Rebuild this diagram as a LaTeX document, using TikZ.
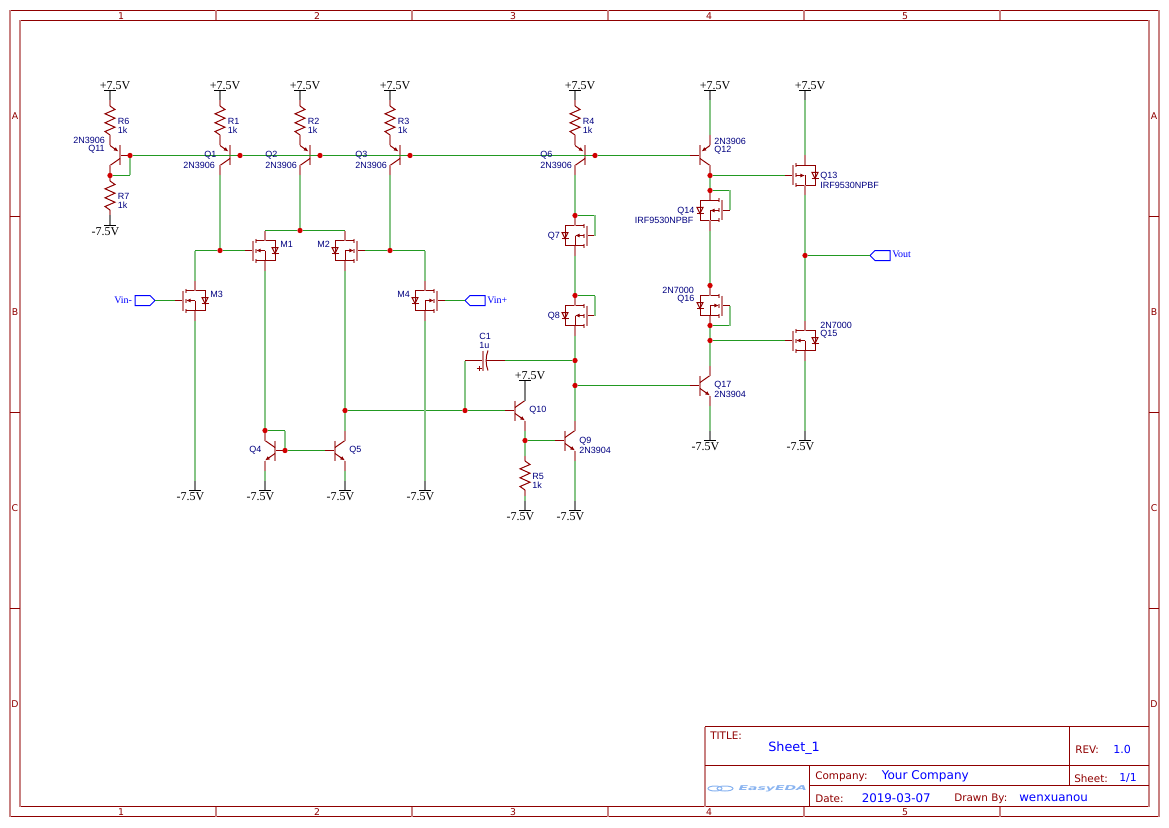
\documentclass[tikz,border=0pt]{standalone}
\usepackage{fontspec}
\setmainfont{Liberation Serif}
\setsansfont{Liberation Sans}
\newfontfamily\sheetfont{DejaVu Sans}
\usetikzlibrary{arrows.meta, positioning}

\definecolor{part_red}{HTML}{8F0000}
\definecolor{pin_rose}{HTML}{C88080}
\definecolor{wire_green}{HTML}{229922}
\definecolor{wire_pale}{HTML}{85C485}
\definecolor{dot_red}{HTML}{D00000}
\definecolor{label_navy}{HTML}{000080}
\definecolor{value_blue}{HTML}{0000FF}
\definecolor{logo_blue}{HTML}{8AB4F0}

\newcommand{\mosfetbody}{
    \draw[part_style] (-20,0) -- (-12,0);
    \draw[bar_style] (-12,-10) -- (-12,10);
    \draw[bar_style] (-9,-12) -- (-9,-8);
    \draw[bar_style] (-9,-2) -- (-9,2);
    \draw[bar_style] (-9,8) -- (-9,12);
    \draw[part_style] (-9,-10) -- (10,-10) -- (10,10) -- (-9,10);
    \draw[part_style] (0,0) -- (0,10);
    \draw[pin_style] (0,-20) -- (0,-10);
    \draw[pin_style] (0,10) -- (0,20);
    \draw[part_style] (7,-3) -- (13,-3) -- (10,3) -- cycle;
    \draw[part_style] (6.5,3) -- (13.5,3);
    \coordinate (-g) at (-20,0);
    \coordinate (-d) at (0,-20);
    \coordinate (-s) at (0,20);
}

\begin{document}
\begin{tikzpicture}[
    x=0.75pt, y=-0.75pt, shift={(0,0.5)},
    part_style/.style={line width=0.75pt, part_red},
    pin_style/.style={line width=1.5pt, pin_rose},
    bar_style/.style={line width=1.5pt, pin_rose},
    wire_style/.style={line width=0.75pt, wire_green},
    wire_v_style/.style={line width=1.5pt, wire_pale},
    frame_style/.style={line width=0.75pt, part_red},
    frame_v_style/.style={line width=1.5pt, pin_rose},
    stem_style/.style={line width=1.5pt, black!50},
    dot_style/.style={circle, fill=dot_red, inner sep=0pt, minimum size=4pt},
    label_style/.style={anchor=west, inner sep=0pt, text=label_navy, font=\sffamily\fontsize{6.75}{8}\selectfont},
    rail_style/.style={inner sep=0pt, font=\rmfamily\fontsize{9}{10}\selectfont},
    net_style/.style={anchor=west, inner sep=0pt, text=value_blue, font=\rmfamily\fontsize{7.5}{9}\selectfont},
    edge_style/.style={inner sep=0pt, text=part_red, font=\sheetfont\fontsize{7}{8}\selectfont},
    head_style/.style={anchor=west, inner sep=0pt, text=part_red, font=\sheetfont\fontsize{7.8}{9}\selectfont},
    bjt_pnp/.pic={
        \draw[part_style] (-10,0) -- (0,0);
        \draw[bar_style] (0,-10) -- (0,10);
        \draw[part_style, -{Latex[length=3.5pt, width=3pt]}] (10,-10) -- (1.5,-4);
        \draw[part_style] (0,3) -- (10,10);
        \draw[pin_style] (10,-10) -- (10,-20);
        \draw[pin_style] (10,10) -- (10,20);
        \coordinate (-b) at (-10,0);
        \coordinate (-e) at (10,-20);
        \coordinate (-c) at (10,20);
    },
    bjt_npn/.pic={
        \draw[part_style] (-10,0) -- (0,0);
        \draw[bar_style] (0,-10) -- (0,10);
        \draw[part_style] (0,-3) -- (10,-10);
        \draw[part_style, -{Latex[length=3.5pt, width=3pt]}] (0,3) -- (10,10);
        \draw[pin_style] (10,-10) -- (10,-20);
        \draw[pin_style] (10,10) -- (10,20);
        \coordinate (-b) at (-10,0);
        \coordinate (-c) at (10,-20);
        \coordinate (-e) at (10,20);
    },
    mos_to_gate/.pic={
        \mosfetbody
        \draw[part_style, -{Latex[length=3.5pt, width=3pt]}] (0,0) -- (-9,0);
    },
    mos_from_gate/.pic={
        \mosfetbody
        \draw[part_style, -{Latex[length=3.5pt, width=3pt]}] (-9,0) -- (0,0);
    },
    res_v/.pic={
        \draw[pin_style] (0,-20) -- (0,-14.5);
        \draw[pin_style] (0,14.5) -- (0,20);
        \draw[part_style] (0,-14.5) -- (5,-11) -- (-5,-6.7) -- (5,-2.3) -- (-5,2.3)
            -- (5,6.7) -- (-5,11) -- (0,14.5);
        \coordinate (-t) at (0,-20);
        \coordinate (-b) at (0,20);
    },
    cap_polar/.pic={
        \draw[part_style] (-20,0) -- (-2.5,0);
        \draw[bar_style] (-2.5,-10) -- (-2.5,10);
        \draw[part_style] (3,-10) .. controls (0.5,-4) and (0.5,4) .. (3,10);
        \draw[part_style] (1.2,0) -- (20,0);
        \draw[part_style] (-8.5,8) -- (-3,8);
        \draw[part_style] (-5.7,5.3) -- (-5.7,10.7);
        \coordinate (-a) at (-20,0);
        \coordinate (-k) at (20,0);
    },
    rail_pos/.pic={
        \draw[stem_style] (0,0) -- (0,10);
        \draw[line width=0.75pt, black] (-6,0) -- (6,0);
        \node[rail_style] (-text) at (5,-5) {+7.5V};
        \coordinate (-p) at (0,10);
    },
    rail_neg/.pic={
        \draw[stem_style] (0,0) -- (0,-10);
        \draw[line width=0.75pt, black] (-6,0) -- (6,0);
        \node[rail_style] (-text) at (-4.5,6.5) {-7.5V};
        \coordinate (-p) at (0,-10);
    },
    net_flag/.pic={
        \draw[line width=0.75pt, value_blue] (0,0) -- (5,-5) -- (20,-5) -- (20,5) -- (5,5) -- cycle;
        \coordinate (-tip) at (0,0);
    }
]

    \useasboundingbox (0,-0.5) rectangle (1169,826.5);

    % Sheet frame
    \draw[frame_style] (10,10) -- (1159,10);
    \draw[frame_style] (10,816) -- (1159,816);
    \draw[frame_style] (20,20) -- (1149,20);
    \draw[frame_style] (20,806) -- (1149,806);
    \draw[frame_v_style] (10,10) -- (10,816);
    \draw[frame_v_style] (1159,10) -- (1159,816);
    \draw[frame_v_style] (20,20) -- (20,806);
    \draw[frame_v_style] (1149,20) -- (1149,806);

    \draw[frame_v_style] (216,10) -- (216,20);
    \draw[frame_v_style] (412,10) -- (412,20);
    \draw[frame_v_style] (608,10) -- (608,20);
    \draw[frame_v_style] (804,10) -- (804,20);
    \draw[frame_v_style] (1000,10) -- (1000,20);
    \draw[frame_v_style] (216,806) -- (216,816);
    \draw[frame_v_style] (412,806) -- (412,816);
    \draw[frame_v_style] (608,806) -- (608,816);
    \draw[frame_v_style] (804,806) -- (804,816);
    \draw[frame_v_style] (1000,806) -- (1000,816);
    \draw[frame_style] (10,216) -- (20,216);
    \draw[frame_style] (10,412) -- (20,412);
    \draw[frame_style] (10,608) -- (20,608);
    \draw[frame_style] (1149,216) -- (1159,216);
    \draw[frame_style] (1149,412) -- (1159,412);
    \draw[frame_style] (1149,608) -- (1159,608);

    \node[edge_style] (top_1) at (121,15.5) {1};
    \node[edge_style] (top_2) at (317,15.5) {2};
    \node[edge_style] (top_3) at (513,15.5) {3};
    \node[edge_style] (top_4) at (709,15.5) {4};
    \node[edge_style] (top_5) at (905,15.5) {5};
    \node[edge_style] (bottom_1) at (121,811.5) {1};
    \node[edge_style] (bottom_2) at (317,811.5) {2};
    \node[edge_style] (bottom_3) at (513,811.5) {3};
    \node[edge_style] (bottom_4) at (709,811.5) {4};
    \node[edge_style] (bottom_5) at (905,811.5) {5};
    \node[edge_style] (left_a) at (15,115.5) {A};
    \node[edge_style] (left_b) at (15,311.5) {B};
    \node[edge_style] (left_c) at (15,507.5) {C};
    \node[edge_style] (left_d) at (15,703.5) {D};
    \node[edge_style] (right_a) at (1154,115.5) {A};
    \node[edge_style] (right_b) at (1154,311.5) {B};
    \node[edge_style] (right_c) at (1154,507.5) {C};
    \node[edge_style] (right_d) at (1154,703.5) {D};

    % Title block
    \draw[frame_style] (705,726) -- (1149,726);
    \draw[frame_v_style] (705,726) -- (705,806);
    \draw[frame_style] (705,765) -- (1149,765);
    \draw[frame_style] (809,785) -- (1149,785);
    \draw[frame_style] (809,765) -- (809,806);
    \draw[frame_style] (1069,726) -- (1069,785);

    \node[head_style] (title_head) at (710,735) {TITLE:};
    \node[head_style] (rev_head) at (1075,749) {REV:};
    \node[head_style] (company_head) at (815,776) {Company:};
    \node[head_style] (sheet_head) at (1074,778) {Sheet:};
    \node[head_style] (date_head) at (815,798) {Date:};
    \node[head_style] (drawn_head) at (954,798) {Drawn By:};
    \node[head_style, text=value_blue, font=\sheetfont\fontsize{9.6}{11}\selectfont] (title_value) at (768,748) {Sheet\_1};
    \node[head_style, text=value_blue, font=\sheetfont\fontsize{8.3}{10}\selectfont] (rev_value) at (1113,749) {1.0};
    \node[head_style, text=value_blue, font=\sheetfont\fontsize{9.05}{11}\selectfont] (company_value) at (881.5,776) {Your Company};
    \node[head_style, text=value_blue, font=\sheetfont\fontsize{8.2}{10}\selectfont] (sheet_value) at (1119,778) {1/1};
    \node[head_style, text=value_blue, font=\sheetfont\fontsize{8.9}{10}\selectfont] (date_value) at (861.5,798) {2019-03-07};
    \node[head_style, text=value_blue, font=\sheetfont\fontsize{8.9}{10}\selectfont] (drawn_value) at (1019,798) {wenxuanou};

    % Logo
    \draw[line width=0.75pt, logo_blue] (715,788) ellipse (7 and 2.5);
    \draw[line width=0.75pt, logo_blue] (725,788) ellipse (8 and 2.5);
    \node[anchor=west, inner sep=0pt, text=logo_blue, xscale=2.1, font=\sheetfont\bfseries\itshape\fontsize{5}{6}\selectfont] (logo_text) at (738,788.5) {EasyEDA};

    % Resistors
    \pic (r6) at (110,120) {res_v};
    \pic (r7) at (110,195) {res_v};
    \pic (r1) at (220,120) {res_v};
    \pic (r2) at (300,120) {res_v};
    \pic (r3) at (390,120) {res_v};
    \pic (r4) at (575,120) {res_v};
    \pic (r5) at (525,475) {res_v};

    % Bipolar transistors
    \pic[xscale=-1] (q11) at (120,155) {bjt_pnp};
    \pic[xscale=-1] (q1) at (230,155) {bjt_pnp};
    \pic[xscale=-1] (q2) at (310,155) {bjt_pnp};
    \pic[xscale=-1] (q3) at (400,155) {bjt_pnp};
    \pic[xscale=-1] (q6) at (585,155) {bjt_pnp};
    \pic (q12) at (700,155) {bjt_pnp};
    \pic[xscale=-1] (q4) at (275,450) {bjt_npn};
    \pic (q5) at (335,450) {bjt_npn};
    \pic (q10) at (515,410) {bjt_npn};
    \pic (q9) at (565,440) {bjt_npn};
    \pic (q17) at (700,385) {bjt_npn};

    % MOSFETs
    \pic (m1) at (265,250) {mos_to_gate};
    \pic[xscale=-1] (m2) at (345,250) {mos_to_gate};
    \pic (m3) at (195,300) {mos_to_gate};
    \pic[xscale=-1] (m4) at (425,300) {mos_to_gate};
    \pic[xscale=-1] (q7) at (575,235) {mos_from_gate};
    \pic[xscale=-1] (q8) at (575,315) {mos_from_gate};
    \pic (q13) at (805,175) {mos_from_gate};
    \pic[xscale=-1] (q14) at (710,210) {mos_from_gate};
    \pic[xscale=-1] (q16) at (710,305) {mos_to_gate};
    \pic (q15) at (805,340) {mos_to_gate};

    % Capacitor
    \pic (c1) at (485,360) {cap_polar};

    % Supply rails
    \pic (vcc_r6) at (110,90) {rail_pos};
    \pic (vcc_r1) at (220,90) {rail_pos};
    \pic (vcc_r2) at (300,90) {rail_pos};
    \pic (vcc_r3) at (390,90) {rail_pos};
    \pic (vcc_r4) at (575,90) {rail_pos};
    \pic (vcc_q12) at (710,90) {rail_pos};
    \pic (vcc_q13) at (805,90) {rail_pos};
    \pic (vcc_q10) at (525,380) {rail_pos};
    \pic (vee_r7) at (110,225) {rail_neg};
    \pic (vee_m3) at (195,490) {rail_neg};
    \pic (vee_q4) at (265,490) {rail_neg};
    \pic (vee_q5) at (345,490) {rail_neg};
    \pic (vee_m4) at (425,490) {rail_neg};
    \pic (vee_r5) at (525,510) {rail_neg};
    \pic (vee_q9) at (575,510) {rail_neg};
    \pic (vee_q17) at (710,440) {rail_neg};
    \pic (vee_q15) at (805,440) {rail_neg};
    \draw[stem_style] (vcc_q10-p) -- ++(0,10);

    % Net flags
    \pic[xscale=-1] (flag_vin_neg) at (155,300) {net_flag};
    \pic (flag_vin_pos) at (465,300) {net_flag};
    \pic (flag_vout) at (870,255) {net_flag};
    \node[net_style] (text_vin_neg) at (114,300) {Vin-};
    \node[net_style] (text_vin_pos) at (487,299.5) {Vin+};
    \node[net_style] (text_vout) at (892,254) {Vout};

    % Junctions
    \node[dot_style] (dot_q11) at (130,155) {};
    \node[dot_style] (dot_r7) at (110,175) {};
    \node[dot_style] (dot_q1) at (240,155) {};
    \node[dot_style] (dot_q2) at (320,155) {};
    \node[dot_style] (dot_q3) at (410,155) {};
    \node[dot_style] (dot_q6) at (595,155) {};
    \node[dot_style] (dot_bus) at (300,230) {};
    \node[dot_style] (dot_gate_l) at (220,250) {};
    \node[dot_style] (dot_gate_r) at (390,250) {};
    \node[dot_style] (dot_q4) at (265,430) {};
    \node[dot_style] (dot_q4_b) at (285,450) {};
    \node[dot_style] (dot_q5) at (345,410) {};
    \node[dot_style] (dot_c1) at (465,410) {};
    \node[dot_style] (dot_q10) at (525,440) {};
    \node[dot_style] (dot_q7) at (575,215) {};
    \node[dot_style] (dot_q8) at (575,295) {};
    \node[dot_style] (dot_c1_k) at (575,360) {};
    \node[dot_style] (dot_q17) at (575,385) {};
    \node[dot_style] (dot_q13) at (710,175) {};
    \node[dot_style] (dot_q14) at (710,190) {};
    \node[dot_style] (dot_q16) at (710,285) {};
    \node[dot_style] (dot_q16_s) at (710,325) {};
    \node[dot_style] (dot_q15) at (710,340) {};
    \node[dot_style] (dot_vout) at (805,255) {};

    % Horizontal wires
    \draw[wire_style] (dot_q11) -- (dot_q1);
    \draw[wire_style] (dot_q1) -- (dot_q2);
    \draw[wire_style] (dot_q2) -- (dot_q3);
    \draw[wire_style] (dot_q3) -- (dot_q6);
    \draw[wire_style] (dot_q6) -- (q12-b);
    \draw[wire_style] (dot_r7) -- (dot_r7 -| dot_q11);
    \draw[wire_style] (dot_bus) -- (dot_bus -| m1-d);
    \draw[wire_style] (dot_bus) -- (dot_bus -| m2-d);
    \draw[wire_style] (dot_gate_l) -- (m1-g);
    \draw[wire_style] (dot_gate_l) -- (dot_gate_l -| m3-d);
    \draw[wire_style] (dot_gate_r) -- (m2-g);
    \draw[wire_style] (dot_gate_r) -- (dot_gate_r -| m4-d);
    \draw[wire_style] (flag_vin_neg-tip) -- (m3-g);
    \draw[wire_style] (m4-g) -- (flag_vin_pos-tip);
    \draw[wire_style] (dot_q4) -- (dot_q4 -| dot_q4_b);
    \draw[wire_style] (dot_q4_b) -- (q5-b);
    \draw[wire_style] (dot_q5) -- (dot_c1);
    \draw[wire_style] (dot_c1) -- (q10-b);
    \draw[wire_style] (c1-k) -- (dot_c1_k);
    \draw[wire_style] (dot_q10) -- (q9-b);
    \draw[wire_style] (dot_q7) -- (dot_q7 -| q7-g);
    \draw[wire_style] (dot_q8) -- (dot_q8 -| q8-g);
    \draw[wire_style] (dot_q17) -- (q17-b);
    \draw[wire_style] (dot_q13) -- (q13-g);
    \draw[wire_style] (dot_q14) -- (dot_q14 -| q14-g);
    \draw[wire_style] (dot_q16_s) -- (dot_q16_s -| q16-g);
    \draw[wire_style] (dot_q15) -- (q15-g);
    \draw[wire_style] (dot_vout) -- (flag_vout-tip);

    % Vertical wires
    \draw[wire_v_style] (dot_r7 -| dot_q11) -- (dot_q11);
    \draw[wire_v_style] (q1-c) -- (dot_gate_l);
    \draw[wire_v_style] (q2-c) -- (dot_bus);
    \draw[wire_v_style] (q3-c) -- (dot_gate_r);
    \draw[wire_v_style] (q6-c) -- (dot_q7);
    \draw[wire_v_style] (dot_gate_l -| m3-d) -- (m3-d);
    \draw[wire_v_style] (dot_gate_r -| m4-d) -- (m4-d);
    \draw[wire_v_style] (m3-s) -- (vee_m3-p);
    \draw[wire_v_style] (m4-s) -- (vee_m4-p);
    \draw[wire_v_style] (m1-s) -- (dot_q4);
    \draw[wire_v_style] (m2-s) -- (dot_q5);
    \draw[wire_v_style] (dot_q5) -- (q5-c);
    \draw[wire_v_style] (dot_q4 -| dot_q4_b) -- (dot_q4_b);
    \draw[wire_v_style] (q4-e) -- (vee_q4-p);
    \draw[wire_v_style] (q5-e) -- (vee_q5-p);
    \draw[wire_v_style] (dot_c1) -- (c1-a);
    \draw[wire_v_style] (q10-e) -- (dot_q10);
    \draw[wire_v_style] (dot_q10) -- (r5-t);
    \draw[wire_v_style] (r5-b) -- (vee_r5-p);
    \draw[wire_v_style] (q9-e) -- (vee_q9-p);
    \draw[wire_v_style] (dot_q7 -| q7-g) -- (q7-g);
    \draw[wire_v_style] (q7-s) -- (dot_q8);
    \draw[wire_v_style] (dot_q8 -| q8-g) -- (q8-g);
    \draw[wire_v_style] (q8-s) -- (dot_c1_k);
    \draw[wire_v_style] (dot_c1_k) -- (dot_q17);
    \draw[wire_v_style] (dot_q17) -- (q9-c);
    \draw[wire_v_style] (vcc_q12-p) -- (q12-e);
    \draw[wire_v_style] (q12-c) -- (dot_q13);
    \draw[wire_v_style] (dot_q13) -- (dot_q14);
    \draw[wire_v_style] (dot_q14 -| q14-g) -- (q14-g);
    \draw[wire_v_style] (q14-s) -- (dot_q16);
    \draw[wire_v_style] (dot_q16_s -| q16-g) -- (q16-g);
    \draw[wire_v_style] (dot_q16_s) -- (dot_q15);
    \draw[wire_v_style] (dot_q15) -- (q17-c);
    \draw[wire_v_style] (q17-e) -- (vee_q17-p);
    \draw[wire_v_style] (vcc_q13-p) -- (q13-d);
    \draw[wire_v_style] (q13-s) -- (dot_vout);
    \draw[wire_v_style] (dot_vout) -- (q15-d);
    \draw[wire_v_style] (q15-s) -- (vee_q15-p);

    % Part labels
    \node[label_style] (text_r6) at (117.5,120.5) {R6};
    \node[label_style] (text_r6_v) at (117.5,130) {1k};
    \node[label_style] (text_r7) at (117.5,195.5) {R7};
    \node[label_style] (text_r7_v) at (117.5,204.5) {1k};
    \node[label_style] (text_r1) at (227.5,120.5) {R1};
    \node[label_style] (text_r1_v) at (227.5,130) {1k};
    \node[label_style] (text_r2) at (307.5,120.5) {R2};
    \node[label_style] (text_r2_v) at (307.5,130) {1k};
    \node[label_style] (text_r3) at (397.5,120.5) {R3};
    \node[label_style] (text_r3_v) at (397.5,130) {1k};
    \node[label_style] (text_r4) at (582.5,120.5) {R4};
    \node[label_style] (text_r4_v) at (582.5,130) {1k};
    \node[label_style] (text_r5) at (532,476) {R5};
    \node[label_style] (text_r5_v) at (532,485) {1k};
    \node[label_style] (text_q11_t) at (73,140) {2N3906};
    \node[label_style] (text_q11) at (88,149) {Q11};
    \node[label_style] (text_q1) at (204,155) {Q1};
    \node[label_style] (text_q1_t) at (183,165) {2N3906};
    \node[label_style] (text_q2) at (265,155) {Q2};
    \node[label_style] (text_q2_t) at (265,165) {2N3906};
    \node[label_style] (text_q3) at (355,155) {Q3};
    \node[label_style] (text_q3_t) at (355,165) {2N3906};
    \node[label_style] (text_q6) at (540,155) {Q6};
    \node[label_style] (text_q6_t) at (540,165) {2N3906};
    \node[label_style] (text_q12_t) at (714,140.5) {2N3906};
    \node[label_style] (text_q12) at (714,149.5) {Q12};
    \node[label_style] (text_m1) at (280,244) {M1};
    \node[label_style] (text_m2) at (317,244) {M2};
    \node[label_style] (text_m3) at (210,294) {M3};
    \node[label_style] (text_m4) at (397,294) {M4};
    \node[label_style] (text_q4) at (249,450) {Q4};
    \node[label_style] (text_q5) at (349,450) {Q5};
    \node[label_style] (text_q7) at (547.5,235.5) {Q7};
    \node[label_style] (text_q8) at (547.5,315.5) {Q8};
    \node[label_style] (text_q13) at (820,175.5) {Q13};
    \node[label_style] (text_q13_t) at (820,184.5) {IRF9530NPBF};
    \node[label_style] (text_q14) at (677,210.5) {Q14};
    \node[label_style] (text_q14_t) at (634.5,219.5) {IRF9530NPBF};
    \node[label_style] (text_q16_t) at (662,290) {2N7000};
    \node[label_style] (text_q16) at (677,299) {Q16};
    \node[label_style] (text_q15_t) at (820,325) {2N7000};
    \node[label_style] (text_q15) at (820,334) {Q15};
    \node[label_style] (text_q17) at (714,385) {Q17};
    \node[label_style] (text_q17_t) at (714,394) {2N3904};
    \node[label_style] (text_q10) at (529,410) {Q10};
    \node[label_style] (text_q9) at (579,440.5) {Q9};
    \node[label_style] (text_q9_t) at (579,449.5) {2N3904};
    \node[label_style] (text_c1) at (479,335.5) {C1};
    \node[label_style] (text_c1_v) at (479,345) {1u};

\end{tikzpicture}
\end{document}
